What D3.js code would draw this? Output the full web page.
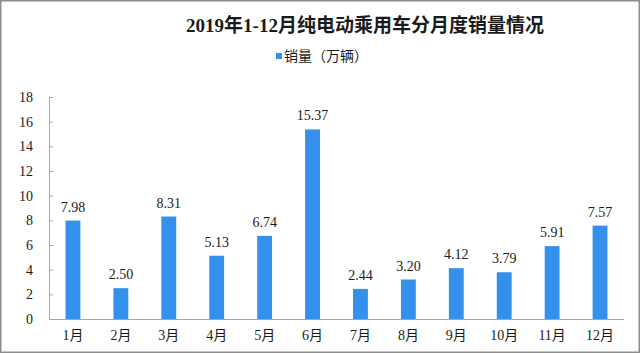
<!DOCTYPE html>
<html>
<head>
<meta charset="utf-8">
<script src="https://cdn.jsdelivr.net/npm/d3@7"></script>
<style>
  body { margin: 0; background: #fff; }
  svg { display: block; }
  .axis path, .axis line { stroke: #a6a6a6; }
  text { font-family: "Liberation Serif", "Noto Sans CJK SC", serif; fill: #1a1a1a; }
</style>
</head>
<body>
<script>
// chart data
var months = ["1月", "2月", "3月", "4月", "5月", "6月", "7月", "8月", "9月", "10月", "11月", "12月"];
var sales = [7.98, 2.50, 8.31, 5.13, 6.74, 15.37, 2.44, 3.20, 4.12, 3.79, 5.91, 7.57];
var yTicks = [0, 2, 4, 6, 8, 10, 12, 14, 16, 18];
var title = "2019年1-12月纯电动乘用车分月度销量情况";
var legendLabel = "销量（万辆）";

var width = 640,
	height = 353,
	barColor = "#3391ec";

var svg = d3.select("body")
	.append("svg")
	.attr("width", width)
	.attr("height", height);

// outer frame
svg.append("rect")
	.attr("x", 0.75)
	.attr("y", 0.75)
	.attr("width", width - 1.5)
	.attr("height", height - 1.5)
	.attr("fill", "none")
	.attr("stroke", "#8c8c8c")
	.attr("stroke-width", 1.5);

var x = d3.scaleBand()
	.domain(months)
	.range([49, 624])
	.paddingInner(0.69)
	.paddingOuter(0.345);

var y = d3.scaleLinear()
	.domain([0, 18])
	.range([319, 97]);

// y axis, ticks pointing into the plot
svg.append("g")
	.attr("class", "axis")
	.attr("transform", "translate(49,0)")
	.call(d3.axisLeft(y)
		.tickValues(yTicks)
		.tickSizeInner(-4)
		.tickSizeOuter(0)
		.tickPadding(16))
	.call(function(g) {
		g.selectAll("text")
			.attr("font-size", 14)
			.attr("font-family", "Liberation Serif, serif")
			.attr("fill", "#1a1a1a");
	});

// x axis
svg.append("g")
	.attr("class", "axis")
	.attr("transform", "translate(0,319)")
	.call(d3.axisBottom(x)
		.tickSize(0)
		.tickPadding(11))
	.call(function(g) {
		g.select(".domain").attr("d", "M49,0.5H624");
		g.selectAll("text")
			.attr("font-size", 14)
			.attr("fill", "#1a1a1a");
	});

// bars
svg.append("g")
	.selectAll("rect")
	.data(sales)
	.enter().append("rect")
	.attr("x", function(d, i) { return x(months[i]); })
	.attr("y", function(d) { return y(d); })
	.attr("width", x.bandwidth())
	.attr("height", function(d) { return y(0) - y(d); })
	.attr("fill", barColor);

// value labels
svg.append("g")
	.selectAll("text")
	.data(sales)
	.enter().append("text")
	.attr("x", function(d, i) { return x(months[i]) + x.bandwidth() / 2; })
	.attr("y", function(d) { return y(d) - 9; })
	.attr("text-anchor", "middle")
	.attr("font-size", 14)
	.text(function(d) { return d.toFixed(2); });

// title
svg.append("text")
	.attr("x", 365)
	.attr("y", 32)
	.attr("text-anchor", "middle")
	.attr("font-size", 19)
	.attr("font-weight", "bold")
	.text(title);

// legend
svg.append("rect")
	.attr("x", 276)
	.attr("y", 53)
	.attr("width", 6)
	.attr("height", 6)
	.attr("fill", barColor);

svg.append("text")
	.attr("x", 284)
	.attr("y", 61)
	.attr("font-size", 14)
	.attr("font-family", "Noto Sans CJK SC, sans-serif")
	.text(legendLabel);
</script>
</body>
</html>
